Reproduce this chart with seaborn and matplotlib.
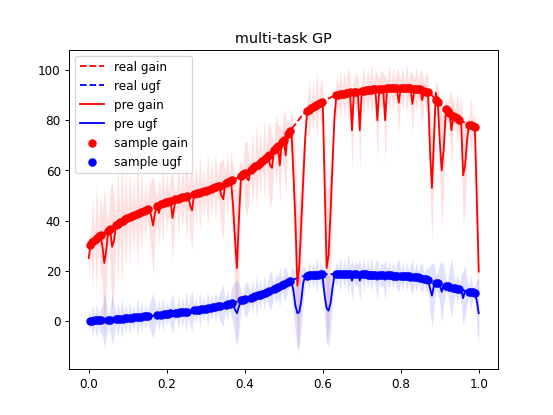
import numpy as np
import matplotlib
matplotlib.use("Agg")
import matplotlib.pyplot as plt
import seaborn as sns

# ---------------- data ----------------
grid_x = np.linspace(0.0, 1.0, 201)  # prediction grid, step 0.005

# "real" curves (knots every 0.025)
real_x = np.linspace(0.0, 1.0, 41)
real_gain = [30.0, 33.5, 36.0, 38.8, 41.0, 42.8, 44.3, 45.8, 47.3, 48.5,
             49.6, 50.7, 51.8, 53.2, 54.8, 56.5, 58.7, 61.3, 64.5, 68.2,
             72.3, 77.5, 82.5, 85.5, 87.5, 89.5, 90.5, 91.2, 91.7, 92.2,
             92.6, 92.8, 92.8, 92.7, 92.4, 90.8, 86.5, 83.0, 80.2, 78.3, 76.8]
real_ugf = [0.0, 0.1, 0.3, 0.6, 1.0, 1.4, 1.8, 2.2, 2.7, 3.1,
            3.6, 4.2, 4.8, 5.5, 6.3, 7.3, 8.5, 9.7, 11.0, 12.6,
            14.5, 16.5, 17.8, 18.3, 18.5, 18.6, 18.7, 18.6, 18.5, 18.4,
            18.2, 18.1, 17.9, 17.6, 17.2, 16.2, 14.6, 13.5, 12.5, 11.6, 10.8]

# predicted means on the grid
pre_gain = [25, 30.7, 31.4, 32.1, 32.8, 33.5, 34.0, 30, 23, 28,
            36.0, 36.6, 29.5, 32, 38.2, 38.8, 39.2, 39.7, 40.1, 40.6,
            41.0, 41.4, 41.7, 42.1, 42.4, 42.8, 43.1, 43.4, 43.7, 44.0,
            44.3, 44.6, 42, 38, 43, 45.8, 43, 46.4, 46.7, 47.0,
            47.3, 47.5, 47.8, 41, 46, 48.5, 48.7, 48.9, 49.2, 49.4,
            49.6, 49.8, 46, 44, 50.5, 50.7, 50.9, 51.1, 51.4, 51.6,
            51.8, 52.1, 52.4, 52.6, 52.9, 53.2, 53.5, 53.8, 50, 48.5,
            54.8, 55.1, 55.5, 55.8, 46, 33, 21, 40, 56, 58.3,
            58.7, 57, 56, 60.3, 60.8, 61.3, 61.9, 62.6, 63.2, 63.9,
            64.5, 65.2, 66.0, 62, 61, 68.2, 69.0, 69.8, 62, 71.5,
            72.3, 66, 74.4, 75.4, 75, 58, 40, 14, 22, 39,
            56, 73, 83.7, 84.3, 84.9, 85.5, 85.9, 86.3, 86.7, 87.1,
            87.5, 55, 21, 26, 43, 62, 81, 89.9, 90.1, 90.3,
            90.5, 90.6, 90.8, 90.9, 91.1, 76, 91.3, 91.4, 91.5, 76,
            91.7, 91.8, 91.9, 92.0, 92.1, 92.2, 92.3, 92.4, 80, 92.5,
            92.6, 92.6, 80, 92.7, 92.8, 92.8, 92.8, 92.8, 92.8, 87,
            92.8, 92.8, 92.8, 92.7, 92.7, 92.7, 86.5, 92.6, 92.5, 92.5,
            92.4, 88, 91.8, 91.4, 91.1, 68, 53, 72, 91, 87.4,
            72, 60, 68, 82, 83.7, 83.0, 76, 81.9, 81.3, 80.8,
            80.2, 79, 58, 62, 72, 78.3, 78.0, 77.7, 77.4, 48,
            19.6]
pre_ugf = [0.0, 0.0, 0.0, 0.1, 0.1, 0.1, 0.1, 0.2, 0.2, 0.3,
           0.3, 0.4, 0.4, 0.5, 0.5, 0.6, 0.7, 0.8, 0.8, 0.9,
           1.0, 1.1, 1.2, 1.2, 1.3, 1.4, 1.5, 1.6, 1.6, 1.7,
           1.8, 1.9, 2.0, 2.0, 2.1, 2.2, 2.3, 2.4, 2.5, 2.6,
           2.7, 2.8, 2.9, 2.9, 3.0, 3.1, 3.2, 3.3, 3.4, 3.5,
           3.6, 3.7, 3.8, 4.0, 4.1, 4.2, 4.3, 4.4, 4.6, 4.7,
           4.8, 4.9, 5.1, 5.2, 5.4, 5.5, 5.7, 5.8, 6.0, 6.1,
           6.3, 6.5, 6.7, 6.9, 6.5, 4.5, 3.0, 5.5, 8.0, 8.3,
           8.5, 8.7, 9.0, 9.2, 9.5, 9.7, 10.0, 10.2, 10.5, 10.7,
           11.0, 11.3, 11.6, 12.0, 12.3, 12.6, 13.0, 13.4, 13.7, 14.1,
           14.5, 14.9, 15.3, 15.7, 15.5, 12, 6, 3, 3.5, 8,
           15, 17.9, 18.0, 18.1, 18.2, 18.3, 18.3, 18.4, 18.4, 18.5,
           17, 10, 5, 4, 7, 13, 18, 18.6, 18.6, 18.7,
           18.7, 18.7, 18.7, 18.7, 18.7, 16, 18.6, 18.6, 18.6, 16,
           18.5, 18.5, 18.5, 18.4, 18.4, 18.4, 18.4, 18.3, 16.3, 18.3,
           18.2, 18.2, 16.3, 18.2, 18.1, 18.1, 18.1, 18.0, 18.0, 18.0,
           17.9, 17.9, 17.8, 17.8, 17.7, 17.6, 17.6, 17.5, 17.4, 17.3,
           17.2, 17.0, 16.8, 16.6, 16.4, 13, 10, 14, 15.2, 14.9,
           14.6, 11.5, 14.2, 13.9, 13.7, 13.5, 13.3, 13.1, 12.9, 12.7,
           12.5, 12.3, 9, 12.0, 11.8, 11.6, 11.4, 11.3, 11.1, 8,
           3]

# confidence half-widths on the grid
band_gain = [9, 3, 18, 2, 22, 3, 16, 14, 30, 16,
             4, 16, 26, 18, 3, 24, 3, 26, 4, 20,
             2, 20, 3, 16, 2, 22, 3, 17, 2, 12,
             3, 10, 14, 20, 10, 3, 14, 4, 16, 2,
             12, 4, 10, 18, 6, 3, 16, 2, 13, 3,
             17, 4, 12, 16, 3, 12, 2, 15, 3, 10,
             2, 15, 3, 11, 2, 14, 3, 9, 14, 16,
             4, 13, 3, 12, 16, 24, 29, 22, 8, 3,
             13, 15, 10, 3, 15, 2, 17, 3, 13, 2,
             16, 3, 12, 17, 12, 3, 14, 8, 16, 4,
             12, 15, 5, 3, 10, 18, 24, 28, 27, 22,
             14, 5, 3, 12, 2, 10, 3, 13, 2, 9,
             6, 20, 30, 28, 22, 12, 4, 8, 3, 10,
             2, 9, 3, 11, 6, 16, 5, 8, 6, 16,
             4, 10, 2, 9, 3, 11, 2, 8, 18, 4,
             8, 6, 18, 3, 10, 2, 9, 3, 8, 12,
             3, 9, 2, 10, 3, 7, 12, 4, 9, 3,
             8, 11, 3, 8, 6, 16, 22, 14, 5, 6,
             14, 23, 15, 6, 3, 9, 14, 6, 3, 10,
             4, 10, 21, 18, 8, 3, 11, 3, 5, 18,
             30]
band_ugf = [4, 2, 6, 2, 7, 2, 5, 6, 11, 7,
            2, 5, 10, 6, 2, 7, 2, 8, 2, 6,
            1, 7, 2, 5, 1, 8, 2, 6, 1, 5,
            2, 4, 7, 9, 5, 2, 6, 2, 7, 1,
            5, 2, 5, 8, 3, 2, 7, 1, 6, 2,
            8, 2, 6, 8, 2, 5, 1, 7, 2, 5,
            1, 7, 2, 5, 1, 6, 2, 5, 7, 8,
            2, 6, 2, 5, 8, 11, 13, 10, 4, 2,
            6, 7, 5, 2, 7, 1, 8, 2, 6, 1,
            7, 2, 5, 8, 6, 2, 6, 4, 8, 2,
            6, 7, 3, 2, 5, 9, 11, 14, 14, 11,
            7, 3, 2, 6, 1, 5, 2, 7, 1, 5,
            4, 10, 14, 14, 11, 6, 2, 5, 2, 7,
            1, 6, 2, 8, 3, 8, 3, 5, 4, 8,
            2, 7, 1, 6, 2, 7, 1, 5, 8, 2,
            5, 4, 8, 2, 6, 1, 6, 2, 5, 7,
            2, 6, 1, 6, 2, 5, 7, 2, 6, 2,
            5, 6, 2, 5, 4, 9, 13, 9, 3, 4,
            8, 12, 8, 3, 2, 7, 12, 6, 2, 6,
            2, 6, 11, 10, 5, 2, 7, 2, 3, 9,
            13]

# training samples
sample_x = [0.003, 0.009, 0.015, 0.021, 0.027, 0.031, 0.050, 0.054, 0.070, 0.075,
            0.081, 0.087, 0.093, 0.099, 0.105, 0.111, 0.117, 0.123, 0.129, 0.135,
            0.141, 0.147, 0.153, 0.175, 0.186, 0.192, 0.198, 0.204, 0.209, 0.222,
            0.228, 0.234, 0.240, 0.246, 0.252, 0.271, 0.277, 0.283, 0.289, 0.295,
            0.301, 0.307, 0.313, 0.319, 0.325, 0.331, 0.336, 0.351, 0.357, 0.363,
            0.367, 0.391, 0.396, 0.401, 0.415, 0.421, 0.427, 0.433, 0.439, 0.445,
            0.451, 0.457, 0.461, 0.475, 0.480, 0.485, 0.495, 0.500, 0.511, 0.516,
            0.559, 0.564, 0.569, 0.574, 0.579, 0.584, 0.589, 0.594, 0.599, 0.634,
            0.639, 0.644, 0.649, 0.654, 0.659, 0.664, 0.669, 0.681, 0.686, 0.700,
            0.705, 0.710, 0.715, 0.720, 0.725, 0.730, 0.735, 0.745, 0.750, 0.754,
            0.765, 0.770, 0.775, 0.780, 0.785, 0.790, 0.800, 0.805, 0.810, 0.815,
            0.820, 0.825, 0.835, 0.840, 0.845, 0.850, 0.860, 0.865, 0.870, 0.890,
            0.895, 0.915, 0.920, 0.925, 0.935, 0.940, 0.945, 0.950, 0.975, 0.980,
            0.985, 0.990]
sample_gain = [30.4, 31.3, 32.1, 32.9, 33.7, 34.1, 36.0, 36.5, 38.2, 38.8,
               39.3, 39.8, 40.4, 40.9, 41.4, 41.8, 42.2, 42.6, 43.0, 43.4,
               43.8, 44.1, 44.5, 45.8, 46.5, 46.8, 47.2, 47.5, 47.7, 48.4,
               48.6, 48.9, 49.2, 49.4, 49.7, 50.5, 50.8, 51.0, 51.3, 51.6,
               51.9, 52.2, 52.5, 52.8, 53.2, 53.6, 53.9, 54.9, 55.3, 55.7,
               56.0, 57.9, 58.4, 58.8, 60.3, 60.9, 61.6, 62.3, 63.1, 63.9,
               64.6, 65.5, 66.1, 68.2, 69.0, 69.8, 71.5, 72.3, 74.6, 75.6,
               83.6, 84.2, 84.8, 85.4, 85.8, 86.2, 86.6, 87.0, 87.4, 89.9,
               90.1, 90.3, 90.5, 90.6, 90.8, 90.9, 91.1, 91.3, 91.4, 91.7,
               91.8, 91.9, 92.0, 92.1, 92.2, 92.3, 92.4, 92.5, 92.6, 92.6,
               92.7, 92.8, 92.8, 92.8, 92.8, 92.8, 92.8, 92.8, 92.8, 92.7,
               92.7, 92.7, 92.6, 92.5, 92.5, 92.4, 91.8, 91.4, 91.1, 88.2,
               87.4, 84.4, 83.7, 83.0, 81.9, 81.3, 80.8, 80.2, 78.3, 78.0,
               77.7, 77.4]
sample_ugf = [0.0, 0.0, 0.1, 0.1, 0.1, 0.1, 0.3, 0.4, 0.5, 0.6,
              0.7, 0.8, 0.9, 1.0, 1.1, 1.2, 1.3, 1.4, 1.5, 1.6,
              1.7, 1.8, 1.9, 2.2, 2.4, 2.5, 2.7, 2.8, 2.9, 3.0,
              3.2, 3.3, 3.4, 3.5, 3.6, 4.1, 4.2, 4.4, 4.5, 4.7,
              4.8, 5.0, 5.2, 5.3, 5.5, 5.7, 5.8, 6.3, 6.6, 6.8,
              7.0, 8.1, 8.3, 8.5, 9.2, 9.5, 9.8, 10.1, 10.4, 10.7,
              11.1, 11.4, 11.7, 12.6, 13.0, 13.4, 14.1, 14.5, 15.4, 15.8,
              18.0, 18.1, 18.2, 18.3, 18.3, 18.4, 18.4, 18.5, 18.5, 18.6,
              18.6, 18.7, 18.7, 18.7, 18.7, 18.7, 18.6, 18.6, 18.6, 18.5,
              18.5, 18.5, 18.4, 18.4, 18.4, 18.3, 18.3, 18.2, 18.2, 18.2,
              18.1, 18.1, 18.1, 18.0, 18.0, 18.0, 17.9, 17.8, 17.8, 17.7,
              17.7, 17.6, 17.5, 17.4, 17.3, 17.2, 16.8, 16.6, 16.4, 15.1,
              14.9, 13.9, 13.7, 13.5, 13.1, 12.9, 12.7, 12.5, 11.6, 11.4,
              11.3, 11.1]

title = "multi-task GP"

# ---------------- plot ----------------
fig, ax = plt.subplots(figsize=(6.4, 4.8), dpi=86.5)

sns.lineplot(x=real_x, y=real_gain, color="r", linestyle="--", label="real gain", ax=ax)
sns.lineplot(x=real_x, y=real_ugf, color="b", linestyle="--", label="real ugf", ax=ax)
sns.lineplot(x=grid_x, y=pre_gain, color="r", label="pre gain", ax=ax)
sns.lineplot(x=grid_x, y=pre_ugf, color="b", label="pre ugf", ax=ax)
ax.scatter(sample_x, sample_gain, color="r", label="sample gain")
ax.scatter(sample_x, sample_ugf, color="b", label="sample ugf")

pg = np.array(pre_gain); bg = np.array(band_gain)
pu = np.array(pre_ugf); bu = np.array(band_ugf)
ax.fill_between(grid_x, pg - bg, pg + bg, color="r", alpha=0.12, linewidth=0)
ax.fill_between(grid_x, pu - bu, pu + bu, color="b", alpha=0.12, linewidth=0)

ax.set_ylim(-19.4, 108.2)
ax.set_title(title)
ax.legend(loc="upper left")
fig.savefig("out.png", dpi=86.5)
